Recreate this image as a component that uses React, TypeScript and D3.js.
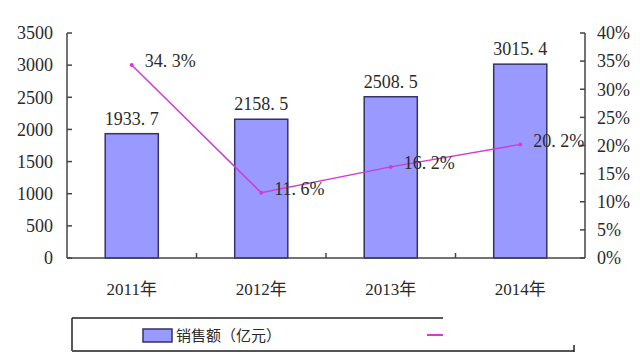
import React from 'react';
import * as d3 from 'd3';

const years = ['2011年', '2012年', '2013年', '2014年'];
const sales = [1933.7, 2158.5, 2508.5, 3015.4];
const growth = [34.3, 11.6, 16.2, 20.2];
const leftTicks = [0, 500, 1000, 1500, 2000, 2500, 3000, 3500];
const rightTicks = [0, 5, 10, 15, 20, 25, 30, 35, 40];
const legendLabel = '销售额（亿元）';

const FONT = '"Liberation Serif", "Noto Sans CJK SC", serif';
const TEXT = '#2a2a2a';
const AXIS = '#444';
const FS = 18;

export default function App() {
  const left = 67, right = 585, top = 33, bottom = 258;
  const x = d3.scaleBand<string>().domain(years).range([left, right]).padding(0);
  const yL = d3.scaleLinear().domain([0, 3500]).range([bottom, top]);
  const yR = d3.scaleLinear().domain([0, 40]).range([bottom, top]);
  const barW = x.bandwidth() * 0.41;
  const cx = (y: string) => (x(y) as number) + x.bandwidth() / 2;

  const line = d3.line<number>()
    .x((_, i) => cx(years[i]))
    .y((d) => yR(d));

  const boundaries = years.slice(1).map((y) => x(y) as number);
  const fmt = (v: number) => v.toFixed(1).replace('.', '. ');

  return (
    <svg width={640} height={360} style={{ position: 'absolute', left: 0, top: 0, background: '#fff' }}
      fontFamily={FONT}>
      {/* bars */}
      {sales.map((v, i) => (
        <rect key={'b' + i} x={cx(years[i]) - barW / 2} y={yL(v)} width={barW} height={bottom - yL(v)}
          fill="#9999ff" stroke="#333366" strokeWidth={1.5} />
      ))}
      {sales.map((v, i) => (
        <text key={'bl' + i} x={cx(years[i])} y={yL(v) - 9} textAnchor="middle" fontSize={FS} fill={TEXT}>
          {fmt(v)}
        </text>
      ))}

      {/* axes */}
      <line x1={left} x2={left} y1={top} y2={bottom} stroke={AXIS} strokeWidth={1.5} />
      <line x1={right} x2={right} y1={top} y2={bottom} stroke={AXIS} strokeWidth={1.5} />
      <line x1={left} x2={right} y1={bottom} y2={bottom} stroke={AXIS} strokeWidth={1.5} />
      {leftTicks.map((t) => (
        <g key={'lt' + t}>
          <line x1={left} x2={left + 5} y1={yL(t)} y2={yL(t)} stroke={AXIS} strokeWidth={1.5} />
          <text x={53} y={yL(t)} dy="0.35em" textAnchor="end" fontSize={FS} fill={TEXT}>{t}</text>
        </g>
      ))}
      {rightTicks.map((t) => (
        <g key={'rt' + t}>
          <line x1={right - 5} x2={right} y1={yR(t)} y2={yR(t)} stroke={AXIS} strokeWidth={1.5} />
          <text x={597} y={yR(t)} dy="0.35em" textAnchor="start" fontSize={FS} fill={TEXT}>{t}%</text>
        </g>
      ))}
      {boundaries.map((b, i) => (
        <line key={'xt' + i} x1={b} x2={b} y1={bottom} y2={bottom - 5} stroke={AXIS} strokeWidth={1.5} />
      ))}
      {years.map((y) => (
        <text key={'xl' + y} x={cx(y)} y={289} dy="0.35em" textAnchor="middle" fontSize={17} fill={TEXT}>{y}</text>
      ))}

      {/* line */}
      <path d={line(growth) || ''} fill="none" stroke="#d23cd2" strokeWidth={1.5} />
      {growth.map((g, i) => (
        <circle key={'p' + i} cx={cx(years[i])} cy={yR(g)} r={2} fill="#d23cd2" />
      ))}
      {growth.map((g, i) => (
        <text key={'gl' + i} x={cx(years[i]) + 13} y={yR(g) - 4} dy="0.35em" textAnchor="start" fontSize={FS} fill={TEXT}>
          {fmt(g)}%
        </text>
      ))}

      {/* legend */}
      <line x1={72} x2={443} y1={318} y2={318} stroke="#222" strokeWidth={1.5} />
      <line x1={72} x2={72} y1={318} y2={351} stroke="#222" strokeWidth={1.5} />
      <line x1={72} x2={574} y1={351} y2={351} stroke="#555" strokeWidth={2} />
      <line x1={574} x2={574} y1={345} y2={352} stroke="#222" strokeWidth={1.5} />
      <rect x={143} y={329} width={29} height={13} fill="#9999ff" stroke="#333366" strokeWidth={1.5} />
      <text x={176} y={335.5} dy="0.35em" fontSize={15} fill={TEXT}>{legendLabel}</text>
      <line x1={427} x2={443} y1={335} y2={335} stroke="#d23cd2" strokeWidth={2} />
    </svg>
  );
}
